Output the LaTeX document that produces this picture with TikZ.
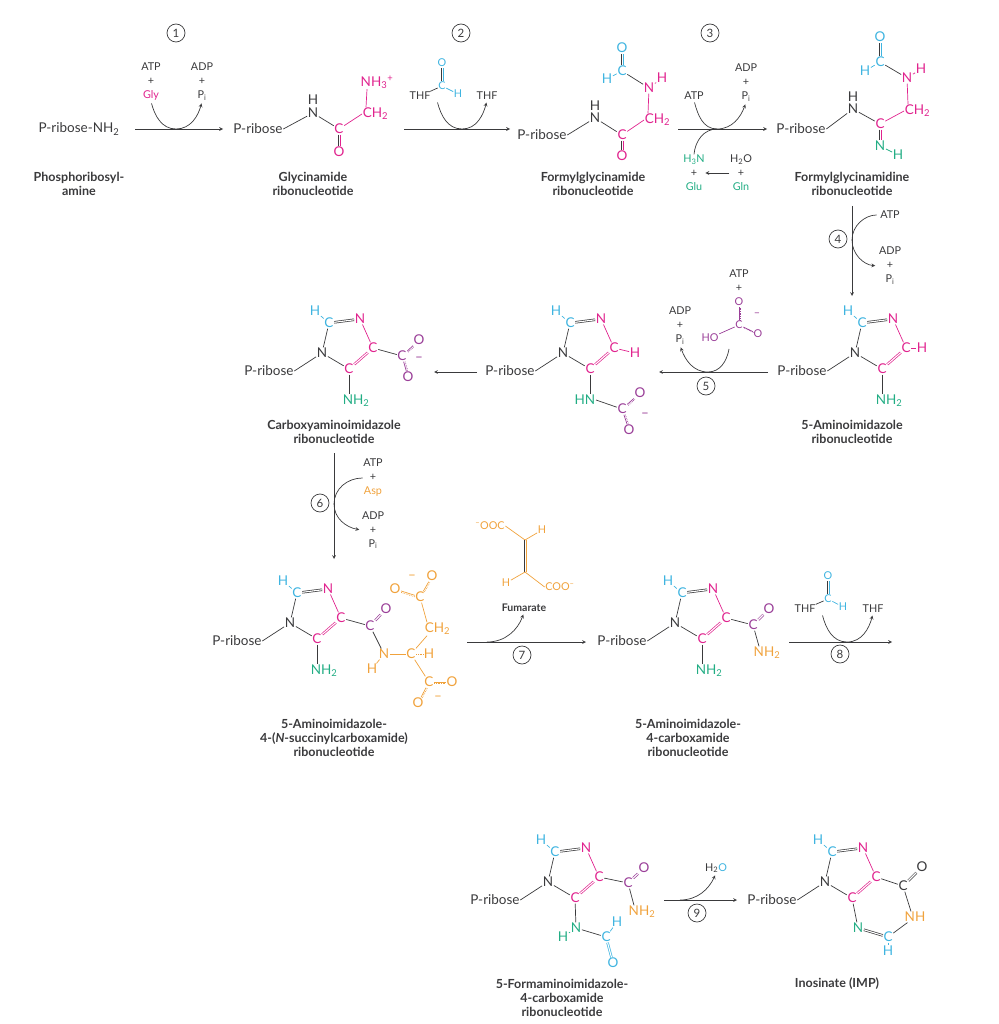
\documentclass[tikz,border=0pt]{standalone}
\usepackage{fontspec}
\setmainfont{Lato}
\definecolor{inkgray}{HTML}{3A3A3C}
\definecolor{fmagenta}{HTML}{E0238E}
\definecolor{fcyan}{HTML}{3FB4E0}
\definecolor{fgreen}{HTML}{22AD84}
\definecolor{fpurple}{HTML}{9A3F98}
\definecolor{forange}{HTML}{F0A23C}
\tikzset{
  every node/.style={font=\fontsize{13.5}{14}\selectfont, inner sep=.4pt},
  cname/.style={font=\fontsize{12.5}{14}\selectfont\bfseries, align=center},
  reagent/.style={font=\fontsize{10.8}{14}\selectfont, align=center},
  stepnum/.style={circle, draw, minimum size=18pt, inner sep=0pt, font=\fontsize{11.5}{12}\selectfont},
  dbl/.style={double, double distance=1.1pt},
  twinv/.style={preaction={draw, transform canvas={xshift=-.9pt}}, postaction={draw, transform canvas={xshift=.9pt}}},
  partial/.style={postaction={draw, densely dotted, transform canvas={shift={(#1)}}}},
  imidazole/.pic={
    \node[fcyan]    (H) at (-7,-42) {H};
    \node[fcyan]    (Ca) at (7,-30) {C};
    \node[fmagenta] (Nb) at (38,-34) {N};
    \node[fmagenta] (Cc) at (51,-5) {C};
    \node[fmagenta] (Cd) at (27,16) {C};
    \node           (Ne) at (0,0) {N};
    \node           (pr) at (-53,18) {P-ribose};
    \draw[fcyan]    (H) -- (Ca);
    \draw[dbl]      (Ca) -- (Nb);
    \draw[fmagenta] (Nb) -- (Cc);
    \draw[fmagenta,dbl] (Cc) -- (Cd);
    \draw           (Cd) -- (Ne);
    \draw           (Ne) -- (Ca);
    \draw           (pr.east) -- (Ne);
  }
}
\begin{document}
\begin{tikzpicture}[x=1pt,y=-1pt,line width=.7pt,color=inkgray]
  \useasboundingbox (0,0) rectangle (998,1024);
  % arrow ends
  \coordinate (r1s) at (135,129);
  \coordinate (r1e) at (223,129);
  \coordinate (r1m) at (176,129);
  \coordinate (r2s) at (404,129);
  \coordinate (r2e) at (510,129);
  \coordinate (r2m) at (462,129);
  \coordinate (r3s) at (678,129);
  \coordinate (r3e) at (767,129);
  \coordinate (r3m) at (717,129);
  \coordinate (r4s) at (852,206);
  \coordinate (r4e) at (852,296);
  \coordinate (r4m) at (852,240);
  \coordinate (r5s) at (768,372);
  \coordinate (r5e) at (659,372);
  \coordinate (r5m) at (708,372);
  \coordinate (r5i) at (729,349);
  \coordinate (rbs) at (477,372);
  \coordinate (rbe) at (434,372);
  \coordinate (r6s) at (334,453);
  \coordinate (r6e) at (334,559);
  \coordinate (r6m) at (334,504);
  \coordinate (r7s) at (467,642);
  \coordinate (r7e) at (586,642);
  \coordinate (r7m) at (487,642);
  \coordinate (r8s) at (789,642);
  \coordinate (r8e) at (892,642);
  \coordinate (r8m) at (847,642);
  \coordinate (r9s) at (664,900);
  \coordinate (r9e) at (737,900);
  \coordinate (r9m) at (680,900);
  % step numbers
  \node[stepnum] (n1) at (176,33) {1};
  \node[stepnum] (n2) at (461,33) {2};
  \node[stepnum] (n3) at (710,33) {3};
  \node[stepnum] (n4) at (838,239) {4};
  \node[stepnum] (n5) at (706,386) {5};
  \node[stepnum] (n6) at (320,503) {6};
  \node[stepnum] (n7) at (522,655) {7};
  \node[stepnum] (n8) at (840,654) {8};
  \node[stepnum] (n9) at (697,913) {9};

  % phosphoribosylamine and step 1
  \node (pra) at (79,129) {P-ribose-NH\textsubscript{2}};
  \node[cname] (prat) at (79,184) {Phosphoribosyl-\\amine};
  \node[reagent] (r1a) at (151,82) {ATP\\+\\\textcolor{fmagenta}{Gly}};
  \node[reagent] (r1b) at (202,82) {ADP\\+\\P\textsubscript{i}};
  \draw[-stealth] (r1s) -- (r1e);
  \draw[-stealth,shorten <=2pt,shorten >=2pt] (r1a.south) to[out=-75,in=180] (r1m) to[out=0,in=-105] (r1b.south);

  % glycinamide ribonucleotide
  \node (gpr) at (258,129) {P-ribose};
  \node (gh)  at (313,100) {H};
  \node (gn)  at (313,113) {N};
  \node[fmagenta] (gc) at (339,129) {C};
  \node[fmagenta] (go) at (339,152) {O};
  \node[fmagenta,anchor=west] (gch) at (362,114) {CH\textsubscript{2}};
  \node[fmagenta] (gnh) at (377,82) {NH\textsubscript{3}\textsuperscript{+}};
  \node[cname] (gart) at (313,184) {Glycinamide\\ribonucleotide};
  \draw (gpr.east) -- (gn);
  \draw (gn) -- (gc);
  \path[fmagenta,twinv] (gc) -- (go);
  \draw[fmagenta] (gc) -- (gch.west);
  \draw[fmagenta] ([xshift=4pt]gch.north west) -- ([xshift=-10pt]gnh.south);

  % step 2
  \node[reagent] (r2a) at (420,96) {THF};
  \node[reagent,fcyan] (r2c) at (442,86) {C};
  \node[reagent,fcyan] (r2o) at (442,63) {O};
  \node[reagent,fcyan] (r2h) at (458,94) {H};
  \node[reagent] (r2b) at (487,96) {THF};
  \path[fcyan,twinv] (r2c) -- (r2o);
  \draw[fcyan] (r2c) -- (r2h);
  \draw (r2a) -- (r2c);
  \draw[-stealth] (r2s) -- (r2e);
  \draw[-stealth,shorten <=2pt,shorten >=2pt] (r2a.south -| 437,0) to[out=-75,in=180] (r2m) to[out=0,in=-105] (r2b.south);

  % formylglycinamide ribonucleotide
  \node (fpr) at (542,135) {P-ribose};
  \node (fh)  at (595,106) {H};
  \node (fn)  at (595,118) {N};
  \node[fmagenta] (fc) at (622,135) {C};
  \node[fmagenta] (fo) at (622,156) {O};
  \node[fmagenta,anchor=west] (fch) at (644,120) {CH\textsubscript{2}};
  \node[fmagenta] (fnb) at (649,88) {N};
  \node[fmagenta] (fhb) at (662,78) {H};
  \node[fcyan] (fcc) at (622,71) {C};
  \node[fcyan] (fhc) at (607,79) {H};
  \node[fcyan] (foc) at (622,48) {O};
  \node[cname] (fgart) at (593,184) {Formylglycinamide\\ribonucleotide};
  \draw (fpr.east) -- (fn);
  \draw (fn) -- (fc);
  \path[fmagenta,twinv] (fc) -- (fo);
  \draw[fmagenta] (fc) -- (fch.west);
  \draw[fmagenta] ([xshift=4pt]fch.north west) -- (fnb);
  \draw[fmagenta] (fnb) -- (fhb);
  \draw (fcc) -- (fnb);
  \draw[fcyan] (fcc) -- (fhc);
  \path[fcyan,twinv] (fcc) -- (foc);

  % step 3
  \node[reagent] (r3a) at (694,96) {ATP};
  \node[reagent] (r3b) at (746,83) {ADP\\+\\P\textsubscript{i}};
  \node[reagent] (r3c) at (694,173) {\textcolor{fgreen}{H\textsubscript{3}N}\\+\\\textcolor{fgreen}{Glu}};
  \node[reagent] (r3d) at (741,173) {H\textsubscript{2}O\\+\\\textcolor{fgreen}{Gln}};
  \draw[-stealth] (r3s) -- (r3e);
  \draw[-stealth,shorten <=2pt,shorten >=2pt] (r3a.south) to[out=-75,in=180] (r3m) to[out=0,in=-110] (r3b.south);
  \draw (r3c.north) to[out=85,in=180] (r3m);
  \draw[-stealth] (r3d.west) -- (r3c.east);

  % formylglycinamidine ribonucleotide
  \node (apr) at (801,129) {P-ribose};
  \node (ah)  at (853,97) {H};
  \node (an)  at (853,109) {N};
  \node[fmagenta] (ac) at (880,124) {C};
  \node[fgreen] (anc) at (880,146) {N};
  \node[fgreen] (ahc) at (898,155) {H};
  \node[fmagenta,anchor=west] (ach) at (904,111) {CH\textsubscript{2}};
  \node[fmagenta] (anb) at (907,78) {N};
  \node[fmagenta] (ahb) at (921,69) {H};
  \node[fcyan] (acc) at (880,62) {C};
  \node[fcyan] (ahd) at (865,71) {H};
  \node[fcyan] (aoc) at (880,37) {O};
  \node[cname] (fgamt) at (852,184) {Formylglycinamidine\\ribonucleotide};
  \draw (apr.east) -- (an);
  \draw (an) -- (ac);
  \path[fmagenta,twinv] (ac) -- (anc);
  \draw[fgreen] (anc) -- (ahc);
  \draw[fmagenta] (ac) -- (ach.west);
  \draw[fmagenta] ([xshift=4pt]ach.north west) -- (anb);
  \draw[fmagenta] (anb) -- (ahb);
  \draw (acc) -- (anb);
  \draw[fcyan] (acc) -- (ahd);
  \path[fcyan,twinv] (acc) -- (aoc);

  % step 4
  \node[reagent] (r4a) at (890,215) {ATP};
  \node[reagent] (r4b) at (890,266) {ADP\\+\\P\textsubscript{i}};
  \draw[-stealth] (r4s) -- (r4e);
  \draw[-stealth,shorten <=3pt,shorten >=3pt] (r4a.west) to[out=180,in=90] (r4m) to[out=-90,in=175] (r4b.west);

  % 5-aminoimidazole ribonucleotide
  \pic (ra) at (855,353) {imidazole};
  \node[fmagenta] (rah) at (922,348) {H};
  \node[fgreen,anchor=west] (ranh) at (875,401) {NH\textsubscript{2}};
  \node[cname] (airt) at (852,432) {5-Aminoimidazole\\ribonucleotide};
  \draw[fmagenta] (raCc) -- (rah);
  \draw (raCd) -- ([xshift=7pt]ranh.north west);

  % step 5
  \node[reagent] (r5a) at (739,281) {ATP\\+};
  \node[reagent,fpurple] (r5o) at (739,302) {O};
  \node[reagent,fpurple] (r5c) at (739,325) {C};
  \node[reagent,fpurple] (r5p) at (758,334) {O};
  \node[reagent,fpurple] (r5h) at (710,338) {HO};
  \node[reagent,fpurple] (r5q) at (757,315) {--};
  \node[reagent] (r5b) at (680,326) {ADP\\+\\P\textsubscript{i}};
  \draw[fpurple,partial={1.5,0}] (r5c) -- (r5o);
  \draw[fpurple,partial={1,1}] (r5c) -- (r5p);
  \draw[fpurple] (r5c) -- (r5h);
  \draw[-stealth] (r5s) -- (r5e);
  \draw[-stealth,shorten >=2pt] (r5i) to[out=-100,in=0] (r5m) to[out=180,in=-70] (r5b.south);

  % carboxyaminoimidazole, first form
  \pic (rb) at (563,353) {imidazole};
  \node[fmagenta] (rbh) at (635,353) {H};
  \node[fgreen,anchor=east] (rbn) at (596,400) {HN};
  \node[fpurple] (rbc) at (622,409) {C};
  \node[fpurple] (rbo) at (640,393) {O};
  \node[fpurple] (rbp) at (629,430) {O};
  \node[fpurple] (rbq) at (645,415) {--};
  \draw[fmagenta] (rbCc) -- (rbh);
  \draw (rbCd) -- ([xshift=-6pt]rbn.north east);
  \draw (rbn.east) -- (rbc);
  \draw[fpurple,partial={1,1}] (rbc) -- (rbo);
  \draw[fpurple,partial={1.5,0}] (rbc) -- (rbp);
  \draw[-stealth] (rbs) -- (rbe);

  % carboxyaminoimidazole ribonucleotide
  \pic (rc) at (322,353) {imidazole};
  \node[fgreen,anchor=west] (rcnh) at (342,401) {NH\textsubscript{2}};
  \node[fpurple] (rcc) at (402,356) {C};
  \node[fpurple] (rco) at (419,340) {O};
  \node[fpurple] (rcp) at (408,377) {O};
  \node[fpurple] (rcq) at (419,359) {--};
  \node[cname] (cairt) at (334,432) {Carboxyaminoimidazole\\ribonucleotide};
  \draw (rcCd) -- ([xshift=7pt]rcnh.north west);
  \draw (rcCc) -- (rcc);
  \draw[fpurple,partial={1,1}] (rcc) -- (rco);
  \draw[fpurple,partial={1.5,0}] (rcc) -- (rcp);

  % step 6
  \node[reagent] (r6a) at (373,478) {ATP\\+\\\textcolor{forange}{Asp}};
  \node[reagent] (r6b) at (373,530) {ADP\\+\\P\textsubscript{i}};
  \draw[-stealth] (r6s) -- (r6e);
  \draw[-stealth,shorten >=2pt] (r6a.west) to[out=180,in=90] (r6m) to[out=-90,in=170] (r6b.west);

  % N-succinylcarboxamide ribonucleotide
  \pic (rd) at (290,623) {imidazole};
  \node[fgreen,anchor=west] (rdnh) at (310,671) {NH\textsubscript{2}};
  \node[fpurple] (rdc) at (370,626) {C};
  \node[fpurple] (rdo) at (386,609) {O};
  \node[forange] (rdn) at (384,654) {N};
  \node[forange] (rdh) at (372,669) {H};
  \node[forange] (rda) at (411,654) {C};
  \node[forange] (rdi) at (429,654) {H};
  \node[forange,anchor=west] (rdch) at (424,629) {CH\textsubscript{2}};
  \node[forange] (rdt) at (420,597) {C};
  \node[forange] (rdu) at (432,576) {O};
  \node[forange] (rdv) at (395,589) {O};
  \node[forange] (rdw) at (412,577) {--};
  \node[forange] (rdb) at (429,682) {C};
  \node[forange] (rdx) at (452,682) {O};
  \node[forange] (rdy) at (418,703) {O};
  \node[forange] (rdz) at (438,698) {--};
  \node[cname] (sairt) at (334,738) {5-Aminoimidazole-\\4-(\textit{N}-succinylcarboxamide)\\ribonucleotide};
  \draw (rdCd) -- ([xshift=7pt]rdnh.north west);
  \draw (rdCc) -- (rdc);
  \draw[fpurple,dbl] (rdc) -- (rdo);
  \draw (rdc) -- (rdn);
  \draw[forange] (rdn) -- (rdh);
  \draw[forange] (rdn) -- (rda);
  \draw[forange,densely dotted] (rda) -- (rdi);
  \draw[forange] (rda) -- ([xshift=3pt]rdch.south west);
  \draw[forange] ([xshift=3pt]rdch.north west) -- (rdt);
  \draw[forange,partial={0,1.5}] (rdt) -- (rdv);
  \draw[forange,partial={1.2,.6}] (rdt) -- (rdu);
  \draw[forange] (rda) -- (rdb);
  \draw[forange,partial={0,1.5}] (rdb) -- (rdx);
  \draw[forange,partial={1.2,.6}] (rdb) -- (rdy);

  % fumarate and step 7
  \coordinate (fua) at (525,540);
  \coordinate (fub) at (525,572);
  \node[reagent,forange] (fuo) at (490,526) {\textsuperscript{--}OOC};
  \node[reagent,forange] (fuh) at (542,530) {H};
  \node[reagent,forange] (fui) at (506,583) {H};
  \node[reagent,forange] (fup) at (560,587) {COO\textsuperscript{--}};
  \node[cname,font=\fontsize{10.5}{12}\selectfont\bfseries] (fum) at (524,608) {Fumarate};
  \draw[forange] (fuo.east) -- (fua);
  \draw[forange] (fua) -- (fuh);
  \path[forange,twinv] (fua) -- (fub);
  \draw[forange] (fub) -- (fui);
  \draw[forange] (fub) -- (fup.west);
  \draw[-stealth] (r7s) -- (r7e);
  \draw[-stealth,shorten >=2pt] (r7m) to[out=0,in=-110] (fum.south);

  % 5-aminoimidazole-4-carboxamide ribonucleotide
  \pic (re) at (675,623) {imidazole};
  \node[fgreen,anchor=west] (renh) at (695,671) {NH\textsubscript{2}};
  \node[fpurple] (rec) at (753,625) {C};
  \node[fpurple] (reo) at (769,609) {O};
  \node[forange] (ren) at (767,653) {NH\textsubscript{2}};
  \node[cname] (acair) at (688,738) {5-Aminoimidazole-\\4-carboxamide\\ribonucleotide};
  \draw (reCd) -- ([xshift=7pt]renh.north west);
  \draw (reCc) -- (rec);
  \draw[fpurple,dbl] (rec) -- (reo);
  \draw (rec) -- ([xshift=-8pt]ren.north);

  % step 8
  \node[reagent] (r8a) at (805,609) {THF};
  \node[reagent,fcyan] (r8c) at (828,599) {C};
  \node[reagent,fcyan] (r8o) at (828,576) {O};
  \node[reagent,fcyan] (r8h) at (843,607) {H};
  \node[reagent] (r8b) at (873,609) {THF};
  \path[fcyan,twinv] (r8c) -- (r8o);
  \draw[fcyan] (r8c) -- (r8h);
  \draw (r8a) -- (r8c);
  \draw[-stealth] (r8s) -- (r8e);
  \draw[-stealth,shorten <=2pt,shorten >=2pt] (r8a.south -| 822,0) to[out=-75,in=180] (r8m) to[out=0,in=-105] (r8b.south);

  % 5-formaminoimidazole-4-carboxamide ribonucleotide
  \pic (rf) at (548,882) {imidazole};
  \node[fpurple] (rfc) at (628,883) {C};
  \node[fpurple] (rfo) at (644,868) {O};
  \node[forange] (rfn) at (642,912) {NH\textsubscript{2}};
  \node[fgreen] (rfa) at (576,928) {N};
  \node[fgreen] (rfh) at (563,937) {H};
  \node[fcyan] (rfb) at (606,937) {C};
  \node[fcyan] (rfi) at (617,922) {H};
  \node[fcyan] (rfp) at (613,963) {O};
  \node[cname] (faicar) at (562,998) {5-Formaminoimidazole-\\4-carboxamide\\ribonucleotide};
  \draw (rfCc) -- (rfc);
  \draw[fpurple,dbl] (rfc) -- (rfo);
  \draw (rfc) -- ([xshift=-8pt]rfn.north);
  \draw (rfCd) -- (rfa);
  \draw[fgreen] (rfa) -- (rfh);
  \draw (rfa) -- (rfb);
  \draw[fcyan] (rfb) -- (rfi);
  \draw[fcyan,dbl] (rfb) -- (rfp);

  % step 9
  \node[reagent] (r9a) at (716,868) {H\textsubscript{2}\textcolor{fcyan}{O}};
  \draw[-stealth] (r9s) -- (r9e);
  \draw[-stealth,shorten >=2pt] (r9m) to[out=0,in=-115] (r9a.south);

  % inosinate
  \pic (rg) at (825,882) {imidazole};
  \node (rgc) at (903,886) {C};
  \node (rgo) at (922,867) {O};
  \node[forange] (rgn) at (915,917) {NH};
  \node[fcyan] (rgb) at (888,937) {C};
  \node[fcyan] (rgh) at (888,951) {H};
  \node[fgreen] (rga) at (858,928) {N};
  \node[cname] (imp) at (837,984) {Inosinate (IMP)};
  \draw (rgCc) -- (rgc);
  \draw[dbl] (rgc) -- (rgo);
  \draw (rgc) -- ([xshift=-4pt]rgn.north);
  \draw (rgn) -- (rgb);
  \draw[fcyan] (rgb) -- (rgh);
  \draw[dbl] (rgb) -- (rga);
  \draw (rga) -- (rgCd);
\end{tikzpicture}
\end{document}
